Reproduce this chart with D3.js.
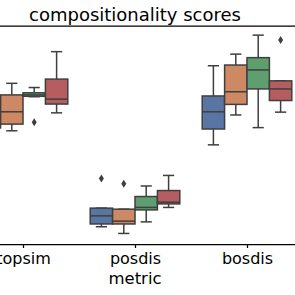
<!DOCTYPE html>
<html>
<head>
<meta charset="utf-8">
<script src="https://cdn.jsdelivr.net/npm/d3@7"></script>
<style>
  body { margin: 0; background: #fff; }
  svg { display: block; font-family: "DejaVu Sans", sans-serif; }
</style>
</head>
<body>
<div id="chart"></div>
<script>
// compositionality scores, one box per metric and hue level

var metrics = ["topsim", "posdis", "bosdis"];
var hues = ["h0", "h1", "h2", "h3"];

// each box: [whislo, q1, median, q3, whishi]
var topsimBoxes = [
    [0.28, 0.31, 0.35, 0.40, 0.43],
    [0.302, 0.321, 0.356, 0.404, 0.437],
    [0.399, 0.400, 0.404, 0.410, 0.425],
    [0.353, 0.378, 0.392, 0.449, 0.527]
];
var posdisBoxes = [
    [0.029, 0.037, 0.060, 0.082, 0.082],
    [0.010, 0.037, 0.045, 0.079, 0.079],
    [0.043, 0.077, 0.084, 0.115, 0.145],
    [0.084, 0.094, 0.099, 0.132, 0.175]
];
var bosdisBoxes = [
    [0.262, 0.307, 0.356, 0.401, 0.487],
    [0.347, 0.377, 0.413, 0.489, 0.520],
    [0.311, 0.421, 0.475, 0.510, 0.574],
    [0.355, 0.388, 0.421, 0.444, 0.444]
];
// outliers per metric, per hue
var topsimOutliers = [[], [], [0.326], []];
var posdisOutliers = [[0.166], [0.151], [], []];
var bosdisOutliers = [[], [], [], [0.560]];

var boxesByMetric = [topsimBoxes, posdisBoxes, bosdisBoxes];
var outliersByMetric = [topsimOutliers, posdisOutliers, bosdisOutliers];

var colors = ["#5975a4", "#cc8963", "#5f9e6e", "#b55d60"];
var lineColor = "#3f3f3f";

var width = 295;
var height = 295;

var svg = d3.select("#chart")
    .append("svg")
    .attr("width", width)
    .attr("height", height);

// axes area runs past the left and right edges of the picture
var plotLeft = -33, plotRight = 303, plotTop = 26, plotBottom = 244;

var x = d3.scalePoint()
    .domain(metrics)
    .range([plotLeft, plotRight])
    .padding(0.5);

var groupWidth = x.step() * 0.8;
var xHue = d3.scaleBand()
    .domain(hues)
    .range([-groupWidth / 2, groupWidth / 2]);

var y = d3.scaleLinear()
    .domain([-0.02, 0.6])
    .range([plotBottom, plotTop]);

// flatten into records
var records = [];
metrics.forEach(function(m, i) {
    hues.forEach(function(h, j) {
        var b = boxesByMetric[i][j];
        records.push({
            metric: m, hue: h, color: colors[j],
            whislo: b[0], q1: b[1], med: b[2], q3: b[3], whishi: b[4],
            outliers: outliersByMetric[i][j]
        });
    });
});

var g = svg.append("g");

var box = g.selectAll(".box")
    .data(records)
    .enter()
    .append("g")
    .attr("class", "box")
    .attr("transform", function(d) {
        return "translate(" + (x(d.metric) + xHue(d.hue)) + ",0)";
    });

var bw = xHue.bandwidth();

// whiskers
box.append("line")
    .attr("x1", bw / 2).attr("x2", bw / 2)
    .attr("y1", function(d) { return y(d.whislo); })
    .attr("y2", function(d) { return y(d.q1); })
    .attr("stroke", lineColor).attr("stroke-width", 1.5);
box.append("line")
    .attr("x1", bw / 2).attr("x2", bw / 2)
    .attr("y1", function(d) { return y(d.q3); })
    .attr("y2", function(d) { return y(d.whishi); })
    .attr("stroke", lineColor).attr("stroke-width", 1.5);
// caps
box.append("line")
    .attr("x1", bw / 4).attr("x2", bw * 3 / 4)
    .attr("y1", function(d) { return y(d.whislo); })
    .attr("y2", function(d) { return y(d.whislo); })
    .attr("stroke", lineColor).attr("stroke-width", 1.5);
box.append("line")
    .attr("x1", bw / 4).attr("x2", bw * 3 / 4)
    .attr("y1", function(d) { return y(d.whishi); })
    .attr("y2", function(d) { return y(d.whishi); })
    .attr("stroke", lineColor).attr("stroke-width", 1.5);

// box body
box.append("rect")
    .attr("x", 0)
    .attr("width", bw)
    .attr("y", function(d) { return y(d.q3); })
    .attr("height", function(d) { return y(d.q1) - y(d.q3); })
    .attr("fill", function(d) { return d.color; })
    .attr("stroke", lineColor)
    .attr("stroke-width", 1.5);

// median
box.append("line")
    .attr("x1", 0).attr("x2", bw)
    .attr("y1", function(d) { return y(d.med); })
    .attr("y2", function(d) { return y(d.med); })
    .attr("stroke", lineColor).attr("stroke-width", 1.5);

// outliers as diamonds
box.selectAll(".flier")
    .data(function(d) { return d.outliers; })
    .enter()
    .append("path")
    .attr("class", "flier")
    .attr("d", "M0,-4 L2.5,0 L0,4 L-2.5,0 Z")
    .attr("transform", function(v) { return "translate(" + (bw / 2) + "," + y(v) + ")"; })
    .attr("fill", lineColor);

// spines
svg.append("line")
    .attr("x1", plotLeft).attr("x2", plotRight)
    .attr("y1", plotTop).attr("y2", plotTop)
    .attr("stroke", "#000").attr("stroke-width", 1.25);

var xAxis = svg.append("g")
    .attr("transform", "translate(0," + plotBottom + ")")
    .call(d3.axisBottom(x).tickSize(4).tickPadding(5));
xAxis.select(".domain").attr("stroke", "#000").attr("stroke-width", 1.25);
xAxis.selectAll(".tick line").attr("stroke", "#000").attr("stroke-width", 1.25);
xAxis.selectAll(".tick text")
    .attr("font-size", "16px")
    .attr("font-family", "DejaVu Sans")
    .attr("fill", "#000");

// labels
svg.append("text")
    .attr("x", (plotLeft + plotRight) / 2)
    .attr("y", 284)
    .attr("text-anchor", "middle")
    .attr("font-size", "16.5px")
    .text("metric");

svg.append("text")
    .attr("x", (plotLeft + plotRight) / 2)
    .attr("y", 21)
    .attr("text-anchor", "middle")
    .attr("font-size", "18px")
    .text("compositionality scores");
</script>
</body>
</html>
